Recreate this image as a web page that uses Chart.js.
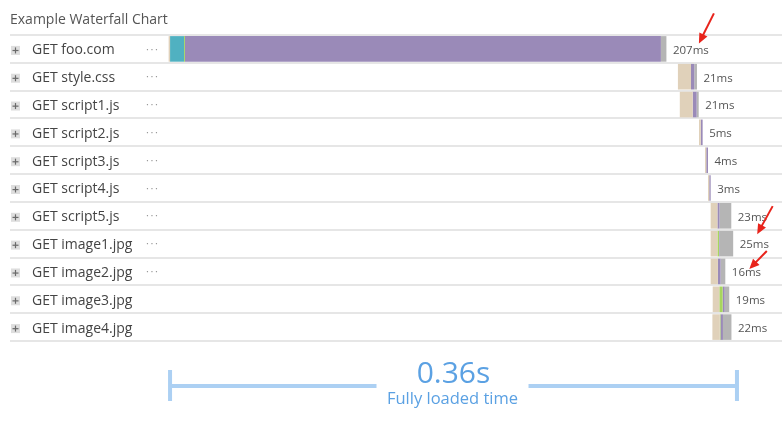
<!DOCTYPE html>
<html>
<head>
<meta charset="utf-8">
<title>Example Waterfall Chart</title>
<script src="https://cdn.jsdelivr.net/npm/chart.js@4"></script>
<style>
  html, body { margin: 0; padding: 0; background: #fff; }
  #wrap { position: relative; width: 782px; height: 431px; }
</style>
</head>
<body>
<div id="wrap"><canvas id="myChart"></canvas></div>
<script>
const requests = ["GET foo.com", "GET style.css", "GET script1.js", "GET script2.js", "GET script3.js",
  "GET script4.js", "GET script5.js", "GET image1.jpg", "GET image2.jpg", "GET image3.jpg", "GET image4.jpg"];
const hasMenu = [true, true, true, true, true, true, true, true, true, false, false];
const durationLabels = ["207ms", "21ms", "21ms", "5ms", "4ms", "3ms", "23ms", "25ms", "16ms", "19ms", "22ms"];

// start time of each request (ms) and the length of every phase (ms)
const starts  = [-0.9, 322.5, 323.7, 335.9, 339.7, 341.6, 343.3, 343.3, 343.3, 344.6, 344.4];
const blocked = [0.9, 8.3, 8.2, 1.1, 0.8, 0.8, 4.3, 4.3, 4.6, 4.2, 4.7];
const connect = [8.9, 0, 0, 0, 0, 0, 0, 0, 0, 0, 0];
const send    = [0.6, 0, 0, 0, 0, 0, 0, 1.0, 0, 2.1, 0.4];
const wait    = [302.2, 2.1, 2.5, 1.2, 1.1, 0.9, 1.3, 0.3, 1.7, 1.3, 1.6];
const receive = [3.5, 1.7, 1.3, 0, 0, 0, 7.5, 8.7, 3.0, 2.9, 5.4];

const fullyLoaded = 360; // ms
const phases = [
  { label: "Blocked", values: blocked, color: "#e0d1ba" },
  { label: "Connect", values: connect, color: "#50b1c1" },
  { label: "Send", values: send, color: "#a8d65e" },
  { label: "Wait", values: wait, color: "#9a8ab8" },
  { label: "Receive", values: receive, color: "#b5b5b5" },
];

// build floating [from, to] ranges for each phase
let cursor = starts.slice();
const datasets = phases.map((p) => {
  const data = p.values.map((v, i) => {
    if (!v) return null;
    const range = [cursor[i], cursor[i] + v];
    cursor[i] += v;
    return range;
  });
  return {
    label: p.label,
    data: data,
    backgroundColor: p.color,
    borderWidth: 0,
    barPercentage: 0.92,
    categoryPercentage: 1,
    grouped: false,
  };
});
const ends = cursor;

const font = "'Open Sans', 'DejaVu Sans', sans-serif";

function arrow(ctx, x1, y1, x2, y2) {
  const a = Math.atan2(y2 - y1, x2 - x1);
  ctx.save();
  ctx.strokeStyle = "#e8231b";
  ctx.fillStyle = "#e8231b";
  ctx.lineWidth = 2;
  ctx.beginPath();
  ctx.moveTo(x1, y1);
  ctx.lineTo(x2 - 6 * Math.cos(a), y2 - 6 * Math.sin(a));
  ctx.stroke();
  ctx.beginPath();
  ctx.moveTo(x2, y2);
  ctx.lineTo(x2 - 10 * Math.cos(a) + 4.5 * Math.sin(a), y2 - 10 * Math.sin(a) - 4.5 * Math.cos(a));
  ctx.lineTo(x2 - 10 * Math.cos(a) - 4.5 * Math.sin(a), y2 - 10 * Math.sin(a) + 4.5 * Math.cos(a));
  ctx.closePath();
  ctx.fill();
  ctx.restore();
}

const waterfallText = {
  id: "waterfallText",
  afterDraw(chart) {
    const ctx = chart.ctx;
    const x = chart.scales.x;
    const y = chart.scales.y;
    ctx.save();
    // title
    ctx.fillStyle = "#555";
    ctx.font = "14px " + font;
    ctx.textBaseline = "middle";
    ctx.textAlign = "left";
    ctx.fillText("Example Waterfall Chart", 10, 20.5);

    requests.forEach((name, i) => {
      const cy = y.getPixelForValue(i) + 1.5;
      // expand box
      ctx.fillStyle = "#dedede";
      ctx.fillRect(11, cy - 4.5, 9, 9);
      ctx.fillStyle = "#6a6a6a";
      ctx.fillRect(12.5, cy - 0.5, 6, 1.2);
      ctx.fillRect(14.9, cy - 3, 1.2, 6);
      ctx.fillStyle = "#444";
      ctx.font = "14px " + font;
      ctx.fillText(name, 32, cy);
      if (hasMenu[i]) {
        ctx.fillStyle = "#999";
        ctx.font = "11px " + font;
        for (let d = 0; d < 3; d++) ctx.fillText("\u00b7", 146 + d * 4.5, cy - 1);
      }
      ctx.fillStyle = "#555";
      ctx.font = "11.5px " + font;
      ctx.fillText(durationLabels[i], x.getPixelForValue(ends[i]) + 6.5, cy);
    });

    // annotation arrows
    const lx = (i) => x.getPixelForValue(ends[i]) + 6.5;
    const ly = (i) => y.getPixelForValue(i) + 1.5;
    arrow(ctx, lx(0) + 41, ly(0) - 37, lx(0) + 26, ly(0) - 7);
    arrow(ctx, lx(7) + 33, ly(7) - 39, lx(7) + 17.5, ly(7) - 11);
    arrow(ctx, lx(8) + 35, ly(8) - 22, lx(8) + 17.5, ly(8) - 4);

    // fully loaded bracket
    const x0 = x.getPixelForValue(0);
    const x1 = x.getPixelForValue(fullyLoaded);
    const mid = (x0 + x1) / 2 - 1;
    ctx.fillStyle = "#acd0f3";
    ctx.fillRect(x0 - 2, 370, 4, 31);
    ctx.fillRect(x1 - 2, 370, 4, 31);
    ctx.fillRect(x0, 384, mid - 76 - x0, 4);
    ctx.fillRect(mid + 76, 384, x1 - mid - 76, 4);
    ctx.fillStyle = "#5ba1e3";
    ctx.textAlign = "center";
    ctx.textBaseline = "alphabetic";
    ctx.font = "30px " + font;
    ctx.fillText((fullyLoaded / 1000).toFixed(2) + "s", mid + 1, 383);
    ctx.font = "16.5px " + font;
    ctx.fillText("Fully loaded time", mid, 404);
    ctx.restore();
  },
};

new Chart(document.getElementById("myChart"), {
  type: "bar",
  data: { labels: requests, datasets: datasets },
  options: {
    indexAxis: "y",
    responsive: true,
    maintainAspectRatio: false,
    animation: false,
    layout: { padding: { top: 35, bottom: 90, left: 0, right: 0 } },
    plugins: { legend: { display: false }, tooltip: { enabled: false } },
    scales: {
      x: { display: false, min: -1.3, max: 388.6 },
      y: {
        ticks: { display: false },
        border: { display: false },
        grid: { color: "#e6e6e6", lineWidth: 2, offset: true, drawTicks: true, tickLength: 158 },
        afterFit: (scale) => { scale.width = 168; },
      },
    },
  },
  plugins: [waterfallText],
});
</script>
</body>
</html>
